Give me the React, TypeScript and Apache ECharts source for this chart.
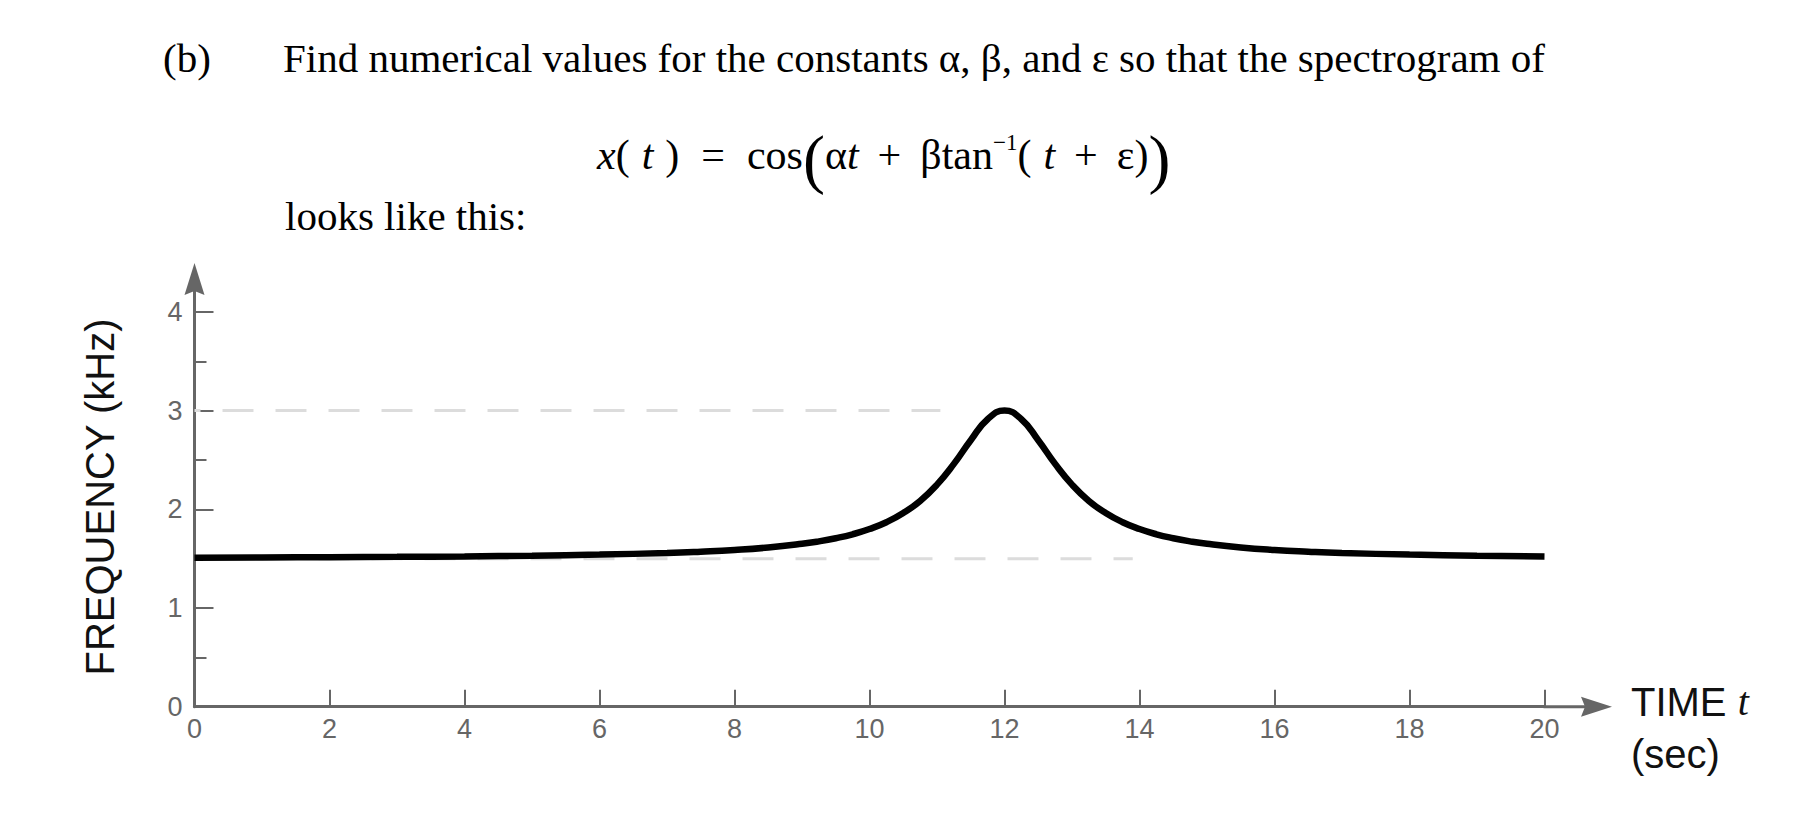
import React, { useEffect, useRef } from "react";
import * as echarts from "echarts";

// ---- data ----
const timeSec = [0, 1, 2, 3, 4, 5, 6, 7, 7.5, 8, 8.5, 9, 9.25, 9.5, 9.75, 10, 10.25, 10.5, 10.75, 11, 11.25, 11.5, 11.75, 12, 12.25, 12.5, 12.75, 13, 13.25, 13.5, 13.75, 14, 14.25, 14.5, 14.75, 15, 15.5, 16, 16.5, 17, 18, 19, 20];
const freqKHz = [1.51, 1.512, 1.515, 1.518, 1.523, 1.53, 1.541, 1.558, 1.571, 1.588, 1.613, 1.65, 1.675, 1.707, 1.747, 1.8, 1.869, 1.962, 2.085, 2.25, 2.46, 2.7, 2.912, 3.0, 2.912, 2.7, 2.46, 2.25, 2.085, 1.962, 1.869, 1.8, 1.747, 1.707, 1.675, 1.65, 1.613, 1.588, 1.571, 1.558, 1.541, 1.53, 1.523];
const refHighT = [0, 11.05];
const refHighF = [3, 3];
const refLowT = [0, 13.9];
const refLowF = [1.5, 1.5];
const xTickLabels = [0, 2, 4, 6, 8, 10, 12, 14, 16, 18, 20];
const yTickLabels = [0, 1, 2, 3, 4];

const AX = "#666666";
const SANS = "Liberation Sans, Arial, sans-serif";
const SERIF = "Liberation Serif, Times New Roman, serif";

const G = { left: 194.5, top: 311.9, width: 1350, height: 394.8 };

export default function App() {
  const ref = useRef<HTMLDivElement>(null);
  useEffect(() => {
    if (!ref.current) return;
    const chart = echarts.init(ref.current, null, { renderer: "svg" });
    const x0 = G.left;
    const yB = G.top + G.height;
    const xR = G.left + G.width;
    const FS = 42;
    const option: any = {
      animation: false,
      backgroundColor: "#ffffff",
      grid: { left: G.left, top: G.top, width: G.width, height: G.height, containLabel: false },
      xAxis: {
        type: "value",
        min: xTickLabels[0],
        max: xTickLabels[xTickLabels.length - 1],
        interval: 2,
        axisLine: { show: true, lineStyle: { color: AX, width: 3 } },
        axisTick: { show: true, inside: true, length: 17, lineStyle: { color: AX, width: 2 } },
        axisLabel: { color: AX, fontSize: 27, fontFamily: SANS, margin: 9 },
        splitLine: { show: false },
      },
      yAxis: {
        type: "value",
        min: yTickLabels[0],
        max: yTickLabels[yTickLabels.length - 1],
        interval: 1,
        axisLine: { show: true, lineStyle: { color: AX, width: 3 } },
        axisTick: { show: true, inside: true, length: 19, lineStyle: { color: AX, width: 2 } },
        minorTick: { show: true, splitNumber: 2, length: 12, lineStyle: { color: AX, width: 2 } },
        axisLabel: { color: AX, fontSize: 27, fontFamily: SANS, margin: 12 },
        splitLine: { show: false },
        minorSplitLine: { show: false },
      },
      series: [
        {
          type: "line",
          data: refHighT.map((t, i) => [t, refHighF[i]]),
          symbol: "none",
          silent: true,
          lineStyle: { color: "#dcdcdc", width: 3, type: [31, 22], dashOffset: 25 },
          z: 1,
        },
        {
          type: "line",
          data: refLowT.map((t, i) => [t, refLowF[i]]),
          symbol: "none",
          silent: true,
          lineStyle: { color: "#dcdcdc", width: 3, type: [31, 22], dashOffset: 35 },
          z: 1,
        },
        {
          type: "line",
          data: timeSec.map((t, i) => [t, freqKHz[i]]),
          symbol: "none",
          smooth: true,
          lineStyle: { color: "#000000", width: 6.5 },
          z: 3,
        },
      ],
      graphic: [
        // axis extensions and arrows
        { type: "line", shape: { x1: x0, y1: G.top + 1, x2: x0, y2: 291 }, style: { stroke: AX, lineWidth: 3 }, silent: true },
        { type: "polygon", shape: { points: [[x0, 263], [x0 + 10, 295], [x0, 291], [x0 - 10, 295]] }, style: { fill: AX }, silent: true },
        { type: "line", shape: { x1: xR - 1, y1: yB, x2: 1586, y2: yB }, style: { stroke: AX, lineWidth: 3 }, silent: true },
        { type: "polygon", shape: { points: [[1612, yB], [1581, yB - 10], [1585, yB], [1581, yB + 10]] }, style: { fill: AX }, silent: true },
        // axis titles
        {
          type: "text", x: 100, y: 497, rotation: Math.PI / 2,
          style: { text: "FREQUENCY (kHz)", font: `40px ${SANS}`, fill: "#111111", align: "center", verticalAlign: "middle" },
          silent: true,
        },
        {
          type: "text", x: 1631, y: 701.5,
          style: {
            text: "{a|TIME }{b|t}",
            verticalAlign: "middle",
            align: "left",
            rich: {
              a: { fontFamily: SANS, fontSize: 40, fill: "#111111" },
              b: { fontFamily: SERIF, fontStyle: "italic", fontSize: 40, fill: "#111111" },
            },
          },
          silent: true,
        },
        {
          type: "text", x: 1631, y: 754,
          style: { text: "(sec)", font: `40px ${SANS}`, fill: "#111111", align: "left", verticalAlign: "middle" },
          silent: true,
        },
        // problem text
        {
          type: "text", x: 163, y: 58,
          style: { text: "(b)", font: `41px ${SERIF}`, fill: "#000000", align: "left", verticalAlign: "middle" },
          silent: true,
        },
        {
          type: "text", x: 283, y: 58,
          style: { text: "Find numerical values for the constants α, β, and ε so that the spectrogram of", font: `41px ${SERIF}`, fill: "#000000", align: "left", verticalAlign: "middle" },
          silent: true,
        },
        {
          type: "text", x: 285, y: 216,
          style: { text: "looks like this:", font: `41px ${SERIF}`, fill: "#000000", align: "left", verticalAlign: "middle" },
          silent: true,
        },
        {
          type: "text", x: 597, y: 155,
          style: {
            text: "{i|x}{n|(}{w| }{i|t}{w| }{n|)}{e| }{n|=}{e| }{n|cos}{p|(}{n|α}{i|t}{m| }{n|+}{m| }{n|βtan}{s|−1}{n|(}{w| }{i|t}{m| }{n|+}{m| }{n|ε)}{p|)}",
            align: "left",
            verticalAlign: "middle",
            rich: {
              n: { fontFamily: SERIF, fontSize: FS, fill: "#000000", verticalAlign: "middle" },
              i: { fontFamily: SERIF, fontStyle: "italic", fontSize: FS, fill: "#000000", verticalAlign: "middle" },
              p: { fontFamily: SERIF, fontSize: 66, fill: "#000000", verticalAlign: "middle", padding: [6, 0, 0, 0] },
              s: { fontFamily: SERIF, fontSize: 23, fill: "#000000", verticalAlign: "top", padding: [12, 0, 0, 0] },
              w: { fontSize: FS, width: 12 },
              e: { fontSize: FS, width: 22 },
              m: { fontSize: FS, width: 19 },
            },
          },
          silent: true,
        },
      ],
    };
    chart.setOption(option);
    return () => chart.dispose();
  }, []);
  return (
    <div
      ref={ref}
      style={{ position: "fixed", left: 0, top: 0, width: 1810, height: 826, background: "#ffffff" }}
    />
  );
}
